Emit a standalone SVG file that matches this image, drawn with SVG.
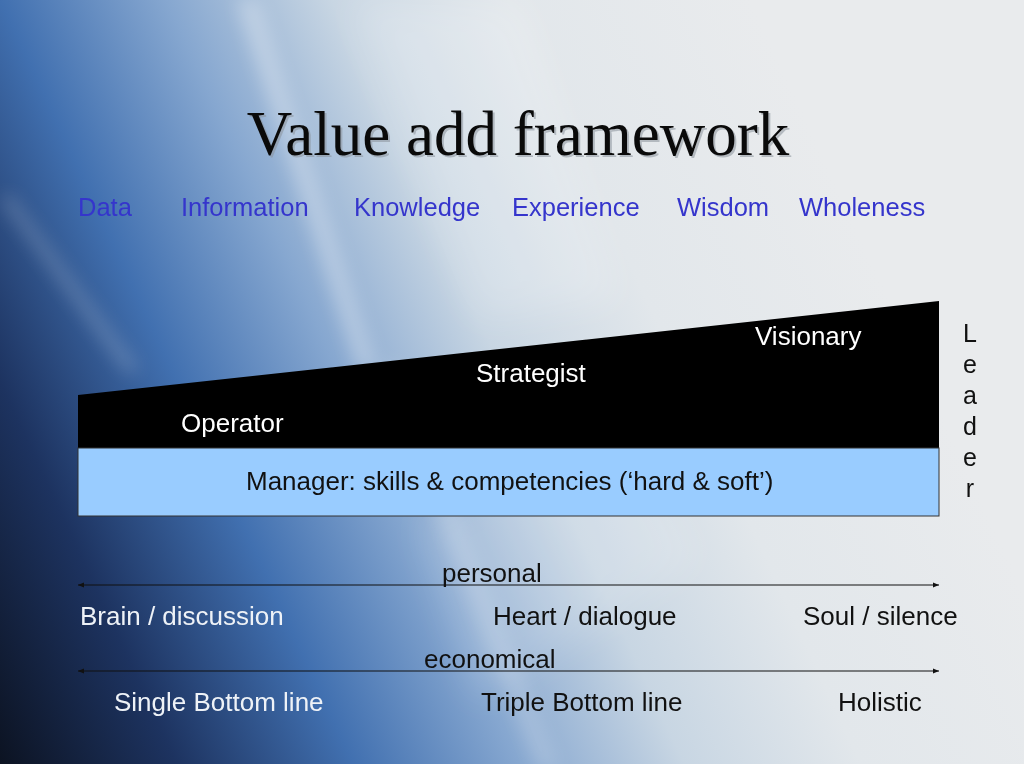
<svg xmlns="http://www.w3.org/2000/svg" width="1024" height="764" viewBox="0 0 1024 764">
<style>
.sans{font-family:"Liberation Sans",Arial,sans-serif;font-size:26px}
.blue{fill:#3535cc;font-size:25.5px}
.wt{fill:#ffffff}
.lt{fill:#eef2f7}
.dk{fill:#111111}
.ld{font-family:"Liberation Sans",Arial,sans-serif;font-size:25px;fill:#111;text-anchor:middle}
.conn{stroke:#111;stroke-width:1.2;fill:none;marker-start:url(#ah);marker-end:url(#ah)}
</style>
<defs>
<linearGradient id="bg" gradientUnits="userSpaceOnUse" x1="0" y1="764" x2="910" y2="344">
<stop offset="0" stop-color="#0c1322"/>
<stop offset="0.16" stop-color="#1d3360"/>
<stop offset="0.32" stop-color="#4170b0"/>
<stop offset="0.47" stop-color="#86a7d0"/>
<stop offset="0.62" stop-color="#c8d6e3"/>
<stop offset="0.78" stop-color="#e2e7eb"/>
<stop offset="1" stop-color="#e9ebed"/>
</linearGradient>
<filter id="blur" x="-50%" y="-50%" width="200%" height="200%"><feGaussianBlur stdDeviation="9"/></filter>
<filter id="blur2" x="-50%" y="-50%" width="200%" height="200%"><feGaussianBlur stdDeviation="18"/></filter>
<marker id="ah" viewBox="0 0 10 10" refX="10" refY="5" markerWidth="6" markerHeight="6" markerUnits="userSpaceOnUse" orient="auto-start-reverse">
<path d="M0,1 L10,5 L0,9 Z" fill="#111"/>
</marker>
</defs>

<g id="background">
<rect x="0" y="0" width="1024" height="764" fill="url(#bg)"/>
<g fill="#ffffff" filter="url(#blur)">
<polygon points="236,0 258,0 378,370 358,370" opacity="0.3"/>
<polygon points="0,200 10,194 140,370 126,372" opacity="0.2"/>
<polygon points="380,370 398,362 560,770 538,770" opacity="0.18"/>
</g>
<g fill="#ffffff" filter="url(#blur2)">
<polygon points="350,0 520,0 620,300 480,320" opacity="0.2"/>
<polygon points="420,520 620,420 700,560 480,700" opacity="0.15"/>
</g>
</g>

<g id="title">
<text x="520" y="157" text-anchor="middle" font-family="'Liberation Serif','Times New Roman',serif" font-size="63" fill="#8a939c" opacity="0.55">Value add framework</text>
<text x="518" y="155" text-anchor="middle" font-family="'Liberation Serif','Times New Roman',serif" font-size="63" fill="#0a0a0a">Value add framework</text>
</g>

<g id="stages">
<text class="sans blue" x="78" y="216">Data</text>
<text class="sans blue" x="181" y="216">Information</text>
<text class="sans blue" x="354" y="216">Knowledge</text>
<text class="sans blue" x="512" y="216">Experience</text>
<text class="sans blue" x="677" y="216">Wisdom</text>
<text class="sans blue" x="799" y="216">Wholeness</text>
</g>

<g id="leader-wedge">
<polygon points="78,395 939,301 939,448 78,448" fill="#000"/>
<text class="sans wt" x="755" y="345">Visionary</text>
<text class="sans wt" x="476" y="382">Strategist</text>
<text class="sans wt" x="181" y="432">Operator</text>
</g>

<g id="manager">
<rect x="78" y="448" width="861" height="68" fill="#99ccff" stroke="#333" stroke-width="1"/>
<text class="sans dk" x="246" y="490">Manager: skills &amp; competencies (‘hard &amp; soft’)</text>
</g>

<g id="leader-label">
<text class="ld" x="970" y="342">L</text>
<text class="ld" x="970" y="373">e</text>
<text class="ld" x="970" y="404">a</text>
<text class="ld" x="970" y="435">d</text>
<text class="ld" x="970" y="466">e</text>
<text class="ld" x="970" y="497">r</text>
</g>

<g id="connectors">
<line class="conn" x1="78" y1="585" x2="939" y2="585"/>
<line class="conn" x1="78" y1="671" x2="939" y2="671"/>
</g>

<g id="personal-scale">
<text class="sans dk" x="442" y="582">personal</text>
<text class="sans lt" x="80" y="625">Brain / discussion</text>
<text class="sans dk" x="493" y="625">Heart / dialogue</text>
<text class="sans dk" x="803" y="625">Soul / silence</text>
</g>

<g id="economical-scale">
<text class="sans dk" x="424" y="668">economical</text>
<text class="sans lt" x="114" y="711">Single Bottom line</text>
<text class="sans dk" x="481" y="711">Triple Bottom line</text>
<text class="sans dk" x="838" y="711">Holistic</text>
</g>
</svg>
